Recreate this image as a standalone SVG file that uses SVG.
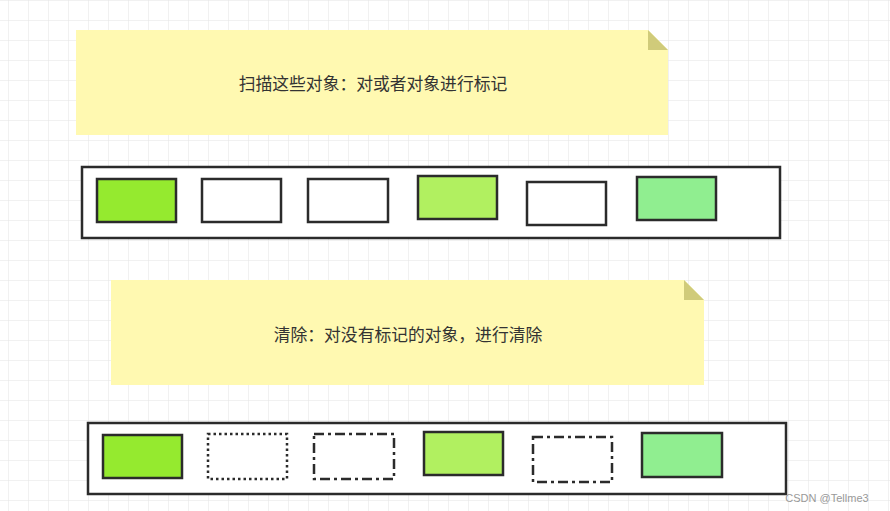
<svg xmlns="http://www.w3.org/2000/svg" width="890" height="511" viewBox="0 0 890 511">
<defs>
<pattern id="grid" x="8" y="0" width="20" height="20" patternUnits="userSpaceOnUse"><path d="M0 0H20M0 0V20" stroke="#e4e4e4" stroke-width="1" fill="none"/></pattern>
<style>
.note{fill:#fff9b1}
.fold{fill:#d0cb7a}
.box{fill:#fff;stroke:#2b2b2b;stroke-width:2.5}
.o{stroke:#2b2b2b;stroke-width:2.5}
.t{font-family:"Microsoft YaHei","Noto Sans CJK SC",sans-serif;font-size:16.8px;fill:#333;text-anchor:middle}
</style>
</defs>
<rect width="890" height="511" fill="#fff"/>
<rect width="890" height="511" fill="url(#grid)"/>
<g id="note1"><path class="note" d="M76 30H648L668 50V135H76Z"/><path class="fold" d="M648 30L668 50H648Z"/><text class="t" x="373" y="90">扫描这些对象：对或者对象进行标记</text></g>
<g id="row1">
<rect class="box" x="82" y="167" width="698" height="71"/>
<rect class="o" x="97" y="179" width="79" height="43" fill="#95ea2f"/>
<rect class="o" x="202" y="179" width="79" height="43" fill="#fff"/>
<rect class="o" x="308" y="179" width="80" height="43" fill="#fff"/>
<rect class="o" x="418" y="176" width="79" height="43" fill="#b1f060"/>
<rect class="o" x="527" y="182" width="79" height="43" fill="#fff"/>
<rect class="o" x="637" y="177" width="79" height="43" fill="#90ee90"/>
</g>
<g id="note2"><path class="note" d="M111 280H684L704 300V385H111Z"/><path class="fold" d="M684 280L704 300H684Z"/><text class="t" x="408" y="341">清除：对没有标记的对象，进行清除</text></g>
<g id="row2">
<rect class="box" x="88" y="423" width="698" height="71"/>
<rect class="o" x="103" y="435" width="79" height="43" fill="#95ea2f"/>
<rect class="o" x="208" y="434" width="79" height="45" fill="#fff" stroke-dasharray="2.5 3"/>
<rect class="o" x="314" y="434" width="80" height="45" fill="#fff" stroke-dasharray="10 4 3 4"/>
<rect class="o" x="424" y="432" width="79" height="43" fill="#b1f060"/>
<rect class="o" x="533" y="437" width="79" height="45" fill="#fff" stroke-dasharray="10 4 3 4"/>
<rect class="o" x="642" y="433" width="80" height="44" fill="#90ee90"/>
</g>
<g id="connectors"></g>
<text x="827" y="502" font-family="Liberation Sans,sans-serif" font-size="11" fill="#999" text-anchor="middle">CSDN @Tellme3</text>
</svg>
